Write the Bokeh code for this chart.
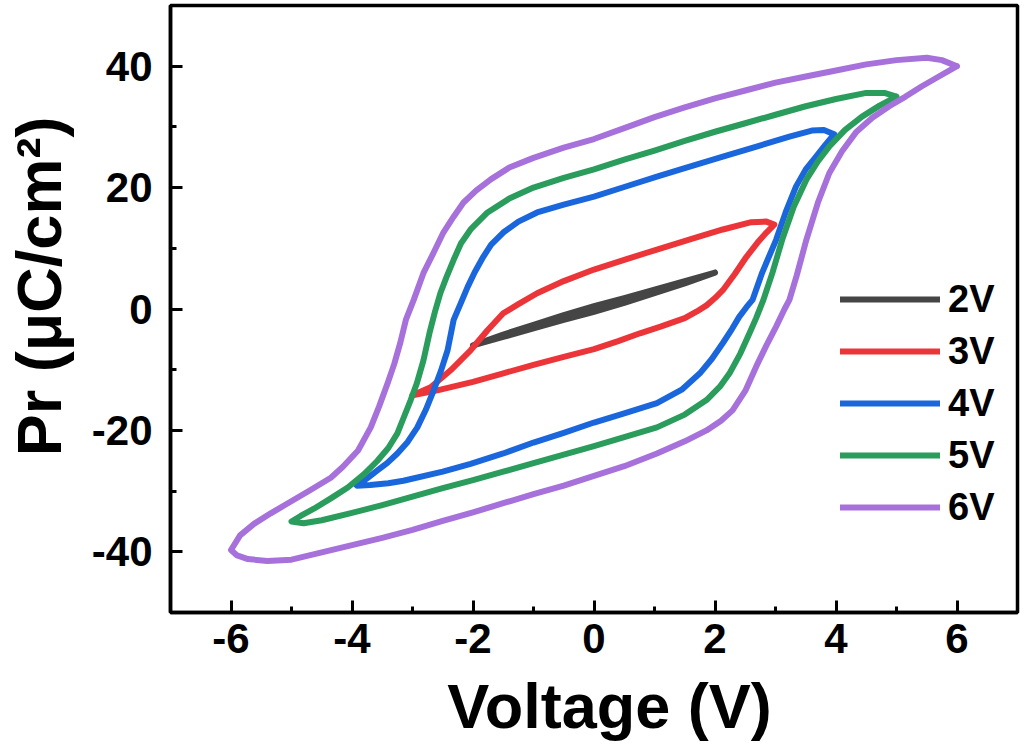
import math
from bokeh.plotting import figure
from bokeh.layouts import row, column
from bokeh.models import FixedTicker, Legend, LegendItem, Label
from bokeh.embed import file_html
from bokeh.resources import INLINE

# Polarization–voltage hysteresis loops, one closed loop per drive amplitude.
# Each loop starts at +Vmax, runs the upper branch down to -Vmax and the lower branch back.
v_2V = [2.0, 1.5, 1.0, 0.5, 0.0, -0.5, -1.0, -1.5, -2.0,
        -1.5, -1.0, -0.5, 0.0, 0.5, 1.0, 1.5, 2.0]
p_2V = [6.0, 4.6, 3.2, 1.8, 0.45, -1.0, -2.6, -4.2, -6.0,
        -4.6, -3.2, -1.8, -0.45, 1.0, 2.6, 4.2, 6.0]

v_3V = [2.98, 2.85, 2.6, 2.13, 1.6, 1.04, 0.5, 0.0, -0.5, -0.94, -1.25, -1.5, -1.76, -2.04,
        -2.37, -2.70, -3.0,
        -2.59, -2.0, -1.5, -1.0, -0.5, 0.0, 0.4, 0.76, 1.1, 1.5, 1.7, 1.86, 2.0, 2.13, 2.33,
        2.52, 2.7, 2.85, 2.98]
p_3V = [13.9, 14.4, 14.3, 13.1, 11.5, 9.8, 8.1, 6.5, 4.6, 2.6, 0.8, -0.7, -3.5, -6.8,
        -10.1, -12.9, -14.2,
        -13.4, -12.0, -10.6, -9.2, -7.9, -6.6, -5.3, -4.0, -2.9, -1.5, -0.4, 0.6, 1.8, 3.1, 5.8,
        8.6, 10.9, 12.6, 13.9]

v_4V = [3.97, 3.8, 3.6, 3.23, 2.7, 2.13, 1.5, 1.04, 0.5, 0.0, -0.5, -0.94, -1.25, -1.5, -1.7,
        -1.83, -1.97, -2.09, -2.2, -2.32, -2.42, -2.53, -2.65, -2.78, -2.92, -3.08, -3.25, -3.42,
        -3.58, -3.75, -3.92,
        -3.7, -3.4, -3.15, -2.5, -2.04, -1.5, -1.0, -0.5, 0.0, 0.5, 1.04, 1.45, 1.75, 1.95, 2.13,
        2.28, 2.4, 2.52, 2.62, 2.78, 3.01, 3.17, 3.34, 3.5, 3.67, 3.82, 3.97]
p_4V = [28.8, 29.5, 29.4, 28.4, 26.8, 25.1, 23.2, 21.8, 20.1, 18.5, 17.2, 15.9, 14.4, 12.6, 10.6,
        8.6, 6.1, 3.6, 1.0, -1.8, -6.8, -10.2, -13.4, -16.6, -19.5, -21.9, -23.8, -25.4,
        -26.6, -27.9, -29.1,
        -29.0, -28.7, -28.3, -26.8, -25.5, -23.8, -22.0, -20.4, -18.7, -17.2, -15.5, -13.3, -10.6,
        -8.2, -5.6, -3.3, -1.3, 0.3, 1.5, 6.0, 11.4, 16.0, 20.2, 23.0, 25.1, 27.0, 28.8]

v_5V = [5.0, 4.8, 4.5, 4.0, 3.5, 3.0, 2.5, 2.0, 1.5, 1.0, 0.5, 0.0, -0.5, -1.0, -1.4, -1.76,
        -2.04, -2.2, -2.32, -2.44, -2.54, -2.63, -2.72, -2.82, -2.93, -3.03, -3.15, -3.25, -3.4,
        -3.58, -3.8, -4.07, -4.35, -4.63, -4.85, -5.0,
        -4.8, -4.5, -4.0, -3.5, -3.0, -2.5, -2.0, -1.5, -1.0, -0.5, 0.0, 0.5, 1.04, 1.5, 1.86,
        2.08, 2.24, 2.42, 2.57, 2.68, 2.8, 2.95, 3.11, 3.3, 3.51, 3.7, 3.89, 4.15, 4.43, 4.72, 5.0]
p_5V = [35.0, 35.6, 35.6, 34.6, 33.4, 32.0, 30.6, 29.2, 27.7, 26.1, 24.6, 23.0, 21.6, 20.0, 18.2,
        15.9, 13.1, 10.8, 8.1, 5.2, 2.6, -0.5, -4.0, -8.5, -12.3, -15.0, -18.0, -20.5, -22.9,
        -25.0, -27.2, -29.4, -31.2, -32.9, -34.1, -35.0,
        -35.3, -34.8, -33.6, -32.3, -30.9, -29.5, -28.2, -26.8, -25.4, -24.0, -22.6, -21.1, -19.5,
        -17.4, -15.0, -12.8, -10.6, -7.3, -4.0, -1.5, 1.5, 6.0, 11.4, 16.8, 21.3, 24.3, 26.8,
        29.5, 31.7, 33.5, 35.0]

v_6V = [6.0, 5.75, 5.5, 5.0, 4.5, 4.0, 3.5, 3.0, 2.5, 2.0, 1.5, 1.0, 0.5, 0.0, -0.5, -1.0,
        -1.4, -1.7, -1.95, -2.16, -2.32, -2.49, -2.65, -2.82, -2.98, -3.11, -3.2, -3.3, -3.41,
        -3.55, -3.69, -3.9, -4.15, -4.35, -4.7, -5.06, -5.35, -5.62, -5.85, -6.0,
        -5.9, -5.72, -5.4, -5.0, -4.5, -4.0, -3.5, -3.0, -2.5, -2.0, -1.5, -1.0, -0.5, 0.0, 0.5,
        1.04, 1.5, 1.86, 2.1, 2.29, 2.5, 2.68, 2.85, 3.01, 3.15, 3.23, 3.35, 3.51, 3.7, 3.89,
        4.1, 4.33, 4.6, 4.88, 5.15, 5.42, 5.7, 6.0]
p_6V = [40.0, 41.0, 41.4, 41.0, 40.3, 39.3, 38.3, 37.3, 36.0, 34.7, 33.2, 31.6, 29.8, 28.0,
        26.6, 24.9, 23.3, 21.4, 19.5, 17.5, 15.2, 12.6, 9.3, 5.9, 1.5, -1.8, -5.5, -9.0, -12.2,
        -16.0, -19.5, -23.3, -26.0, -27.8, -29.9, -32.0, -33.7, -35.4, -37.3, -39.7,
        -40.6, -41.2, -41.5, -41.3, -40.1, -38.9, -37.7, -36.4, -34.9, -33.5, -32.0, -30.5, -29.1,
        -27.5, -25.9, -23.8, -21.8, -20.0, -18.4, -16.7, -13.5, -9.5, -6.0, -2.9, 0.0, 1.5, 5.5,
        11.4, 17.5, 22.4, 26.0, 29.1, 31.5, 33.4, 35.0, 36.7, 38.3, 40.0]

series_labels = ["2V", "3V", "4V", "5V", "6V"]
series_colors = ["#454545", "#ec3539", "#1a66dc", "#2a9c5c", "#a771dc"]
loops = [(v_2V, p_2V), (v_3V, p_3V), (v_4V, p_4V), (v_5V, p_5V), (v_6V, p_6V)]

x_ticks = [-6, -4, -2, 0, 2, 4, 6]
y_ticks = [-40, -20, 0, 20, 40]

FONT = "Liberation Sans"

# Page geometry (px): left strip for the y title, bottom strip for the x title
LEFT_W, MAIN_W = 88, 937
MAIN_H, BOTTOM_H = 672, 76

p = figure(width=MAIN_W, height=MAIN_H, x_range=(-7, 7), y_range=(-50, 50),
           output_backend="svg", toolbar_location=None,
           min_border_left=82, min_border_right=8, min_border_top=5, min_border_bottom=60)
p.background_fill_color = "white"
p.border_fill_color = "white"
p.xgrid.visible = False
p.ygrid.visible = False
p.outline_line_color = "black"
p.outline_line_width = 3.5

items = []
for (vx, py), lab, col in zip(loops, series_labels, series_colors):
    r = p.line(vx, py, line_color=col, line_width=6, line_join="round", line_cap="round")
    items.append(LegendItem(label=lab, renderers=[r]))

for ax, ticks in ((p.xaxis[0], x_ticks), (p.yaxis[0], y_ticks)):
    step = ticks[1] - ticks[0]
    ax.ticker = FixedTicker(ticks=ticks,
                            minor_ticks=[t + step / 2 for t in ticks[:-1]]
                            + [ticks[0] - step / 2, ticks[-1] + step / 2])
    ax.major_label_overrides = {t: str(t) for t in ticks}
    ax.axis_line_width = 3.5
    ax.axis_line_color = "black"
    ax.major_tick_line_width = 3
    ax.minor_tick_line_width = 3
    ax.major_tick_in = 12
    ax.major_tick_out = 0
    ax.minor_tick_in = 6
    ax.minor_tick_out = 0
    ax.major_label_text_font = FONT
    ax.major_label_text_font_style = "bold"
    ax.major_label_text_font_size = "42px"
    ax.major_label_text_color = "black"

p.xaxis.major_label_standoff = 11
p.yaxis.major_label_standoff = 18

legend = Legend(items=items, location=(670, 83))
legend.border_line_color = None
legend.background_fill_alpha = 0
legend.padding = 0
legend.margin = 0
legend.spacing = 8
legend.glyph_width = 100
legend.glyph_height = 44
legend.label_standoff = 8
legend.label_text_font = FONT
legend.label_text_font_style = "bold"
legend.label_text_font_size = "38px"
legend.label_text_color = "black"
p.add_layout(legend, "center")


def strip(w, h):
    # blank canvas whose data coordinates equal pixels measured from its top-left corner
    f = figure(width=w, height=h, x_range=(0, w), y_range=(h, 0),
               output_backend="svg", toolbar_location=None,
               x_axis_location=None, y_axis_location=None,
               min_border_left=0, min_border_right=0, min_border_top=0, min_border_bottom=0)
    f.outline_line_color = None
    f.xgrid.visible = False
    f.ygrid.visible = False
    f.background_fill_color = "white"
    f.border_fill_color = "white"
    return f


def title_text(f, text, x, y, size, angle=0.0):
    f.add_layout(Label(x=x, y=y, text=text, angle=angle, text_align="center",
                       text_baseline="middle", text_font=FONT, text_font_style="bold",
                       text_font_size=size, text_color="black"))


# y title, read bottom to top
yl = strip(LEFT_W, MAIN_H)
title_text(yl, "Pr (μC/cm²)", 38, 311, "63px", angle=math.pi / 2)

# x title
xl = strip(LEFT_W + MAIN_W, BOTTOM_H)
title_text(xl, "Voltage (V)", 609, 33, "63px")

layout = column(row(yl, p, spacing=0), xl, spacing=0)

open("out.html", "w").write(file_html(layout, INLINE))
